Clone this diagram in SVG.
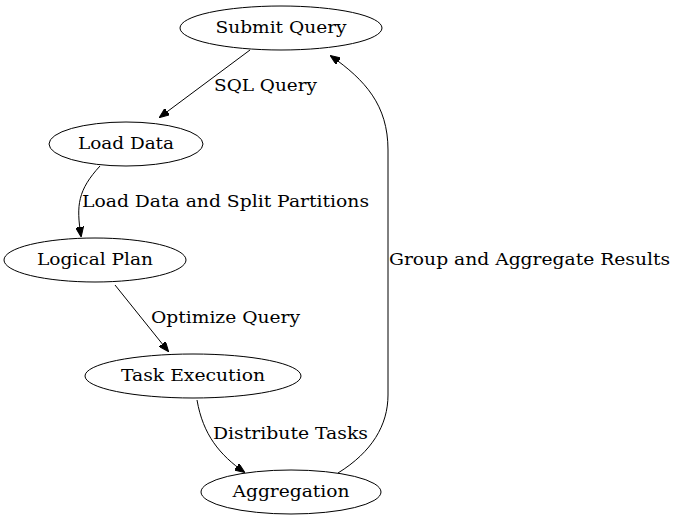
<svg xmlns="http://www.w3.org/2000/svg" width="677" height="523" viewBox="0 0 677 523">
<style>
text{font-family:"DejaVu Serif",serif;font-size:16px;fill:#000}
.n{fill:none;stroke:#000;stroke-width:1}
.e{fill:none;stroke:#000;stroke-width:1}
.nt{text-anchor:middle}
</style>
<defs><marker id="a" markerWidth="10" markerHeight="8" refX="9" refY="4" orient="auto" markerUnits="userSpaceOnUse"><path d="M0,0 L10,4 L0,8 Z" fill="#000" stroke="#000"/></marker></defs>
<rect width="677" height="523" fill="#fff"/>
<g id="connectors">
<path class="e" d="M250,50 L160,117" marker-end="url(#a)"/>
<text x="214" y="91" textLength="103" lengthAdjust="spacingAndGlyphs">SQL Query</text>
<path class="e" d="M100,166 C78,190 76,205 81,236" marker-end="url(#a)"/>
<text x="82" y="207" textLength="287" lengthAdjust="spacingAndGlyphs">Load Data and Split Partitions</text>
<path class="e" d="M115,285 L168,351" marker-end="url(#a)"/>
<text x="151" y="323" textLength="149" lengthAdjust="spacingAndGlyphs">Optimize Query</text>
<path class="e" d="M197,400 C203,435 220,455 244,472" marker-end="url(#a)"/>
<text x="213" y="439" textLength="155" lengthAdjust="spacingAndGlyphs">Distribute Tasks</text>
<path class="e" d="M338,473 C372,452 388,425 388,395 L388,150 C388,105 365,80 331,56" marker-end="url(#a)"/>
<text x="389" y="265" textLength="281" lengthAdjust="spacingAndGlyphs">Group and Aggregate Results</text>
</g>
<g id="n1"><ellipse class="n" cx="281" cy="28" rx="101" ry="22"/><text class="nt" x="281" y="33" textLength="131" lengthAdjust="spacingAndGlyphs">Submit Query</text></g>
<g id="n2"><ellipse class="n" cx="126" cy="144" rx="77" ry="22"/><text class="nt" x="126" y="149" textLength="96" lengthAdjust="spacingAndGlyphs">Load Data</text></g>
<g id="n3"><ellipse class="n" cx="95" cy="260" rx="91" ry="22"/><text class="nt" x="95" y="265" textLength="116" lengthAdjust="spacingAndGlyphs">Logical Plan</text></g>
<g id="n4"><ellipse class="n" cx="193" cy="376" rx="108" ry="22"/><text class="nt" x="193" y="381" textLength="144" lengthAdjust="spacingAndGlyphs">Task Execution</text></g>
<g id="n5"><ellipse class="n" cx="291" cy="492" rx="90" ry="22"/><text class="nt" x="291" y="497" textLength="117" lengthAdjust="spacingAndGlyphs">Aggregation</text></g>
</svg>
